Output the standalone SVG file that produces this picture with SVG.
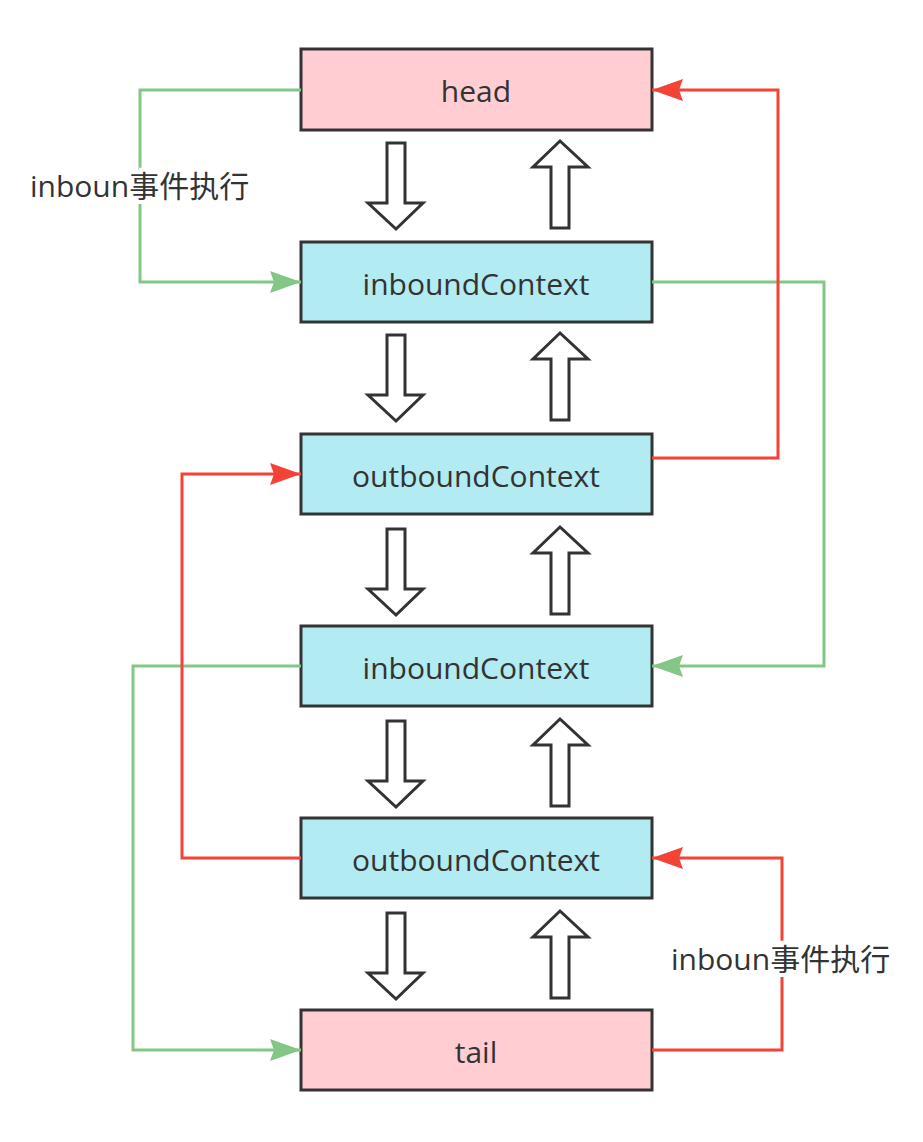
<svg xmlns="http://www.w3.org/2000/svg" width="923" height="1142" viewBox="0 0 923 1142">
<style>
.b{stroke:#333;stroke-width:3}
.p{fill:#ffcdd2}.c{fill:#b2ebf2}
.t{font-family:"Open Sans","Noto Sans CJK SC",sans-serif;font-size:30px;fill:#333;text-anchor:middle}
.l{font-family:"Open Sans","Noto Sans CJK SC",sans-serif;font-size:30px;fill:#333}
.a{fill:#fff;stroke:#333;stroke-width:3}
.g{fill:none;stroke:#82c785;stroke-width:3}
.r{fill:none;stroke:#f44336;stroke-width:3}
</style>
<defs>
<marker id="mg" markerUnits="userSpaceOnUse" markerWidth="32" markerHeight="22" refX="31" refY="11" orient="auto"><path d="M0,0L31,11L0,22L4,11Z" fill="#82c785"/></marker>
<marker id="mr" markerUnits="userSpaceOnUse" markerWidth="32" markerHeight="22" refX="31" refY="11" orient="auto"><path d="M0,0L31,11L0,22L4,11Z" fill="#f44336"/></marker>
<g id="blk">
<path class="a" d="M387,143H405V203H423L396,229L368,203H387Z"/>
<path class="a" d="M551,228H569V167H588L560,141L533,167H551Z"/>
</g>
</defs>
<rect width="923" height="1142" fill="#fff"/>
<g id="n1"><rect class="b p" x="301" y="49" width="351" height="81"/><text class="t" x="476" y="102">head</text></g>
<g id="n2"><rect class="b c" x="301" y="242" width="351" height="80"/><text class="t" x="476" y="295">inboundContext</text></g>
<g id="n3"><rect class="b c" x="301" y="434" width="351" height="80"/><text class="t" x="476" y="487">outboundContext</text></g>
<g id="n4"><rect class="b c" x="301" y="626" width="351" height="80"/><text class="t" x="476" y="679">inboundContext</text></g>
<g id="n5"><rect class="b c" x="301" y="818" width="351" height="80"/><text class="t" x="476" y="871">outboundContext</text></g>
<g id="n6"><rect class="b p" x="301" y="1010" width="351" height="80"/><text class="t" x="476" y="1063">tail</text></g>
<g id="blocks">
<use href="#blk"/><use href="#blk" y="192"/><use href="#blk" y="386"/><use href="#blk" y="578"/><use href="#blk" y="770"/>
</g>
<g id="connectors">
<path class="g" d="M301,90H140V282H301" marker-end="url(#mg)"/>
<path class="g" d="M652,282H824V666H652" marker-end="url(#mg)"/>
<path class="g" d="M301,666H133V1050H301" marker-end="url(#mg)"/>
<path class="r" d="M652,458H778V90H652" marker-end="url(#mr)"/>
<path class="r" d="M301,858H182V474H301" marker-end="url(#mr)"/>
<path class="r" d="M652,1050H782V858H652" marker-end="url(#mr)"/>
</g>
<text class="l" x="30" y="197" paint-order="stroke" stroke="#fff" stroke-width="8">inboun事件执行</text>
<text class="l" x="671" y="970" paint-order="stroke" stroke="#fff" stroke-width="8">inboun事件执行</text>
</svg>
